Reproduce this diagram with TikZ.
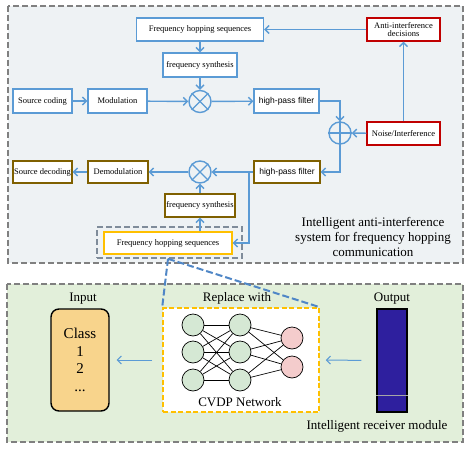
\documentclass[tikz,border=0pt]{standalone}
\usepackage{fontspec}
\setmainfont{Liberation Serif}
\newfontfamily\arialfont{Liberation Sans}
\usetikzlibrary{arrows.meta}

\definecolor{lineblue}{HTML}{5B9BD5}
\definecolor{boxred}{HTML}{C00000}
\definecolor{boxbrown}{HTML}{7F6000}
\definecolor{boxyellow}{HTML}{FFC000}
\definecolor{panelgray}{HTML}{EEF2F4}
\definecolor{panelgreen}{HTML}{E2EFDA}
\definecolor{dashgray}{HTML}{808080}
\definecolor{framegray}{HTML}{7F8C9A}
\definecolor{zoomblue}{HTML}{4F86C6}
\definecolor{nodegreen}{HTML}{D5E8D4}
\definecolor{nodepink}{HTML}{F4CCCC}
\definecolor{classorange}{HTML}{F8D48C}
\definecolor{barindigo}{HTML}{2E1F9E}

\tikzset{
    blockbox/.style={draw, line width=1.4pt, fill=white, minimum height=23pt,
        inner sep=1pt, align=center, font=\fontsize{8.5}{9.5}\selectfont},
    bluebox/.style={blockbox, draw=lineblue},
    redbox/.style={blockbox, draw=boxred},
    brownbox/.style={blockbox, draw=boxbrown, minimum height=22pt},
    mixer/.style={circle, draw=lineblue, line width=1.4pt, minimum size=22pt, inner sep=0pt},
    flow/.style={draw=lineblue, line width=1.4pt, -{Straight Barb[length=4pt,width=8pt]}},
    thinflow/.style={draw=lineblue, line width=1pt, -{Straight Barb[length=4pt,width=8pt]}},
    panel/.style={draw=dashgray, line width=1.6pt, dash pattern=on 6pt off 3pt},
    zoomline/.style={draw=zoomblue, line width=2pt, dash pattern=on 7pt off 3pt},
    neuron/.style={circle, draw=black, line width=0.7pt, minimum size=22pt, inner sep=0pt},
    caption/.style={font=\fontsize{13}{15}\selectfont, align=center}
}

\begin{document}
\begin{tikzpicture}[x=1pt, y=-1pt]
    % Define canvas size
    \useasboundingbox (0,0) rectangle (474,450);
    \fill[white] (0,0) rectangle (474,450);

    % Draw the two panels
    \draw[panel, fill=panelgray] (8,6) rectangle (463,263);
    \draw[panel, fill=panelgreen] (7,284) rectangle (463,442);

    % Transmitter chain
    \node[bluebox, minimum width=127pt] (fhs) at (200,29.5) {Frequency hopping sequences};
    \node[redbox, minimum width=73pt] (anti) at (403.5,29.5) {Anti-interference\\[-1pt]decisions};
    \node[bluebox, minimum width=74pt, minimum height=24pt] (synth) at (200,65) {frequency synthesis};
    \node[bluebox, minimum width=59pt, minimum height=24pt] (src) at (42.5,101) {Source coding};
    \node[bluebox, minimum width=59pt, minimum height=24pt] (mod) at (117.5,101) {Modulation};
    \node[mixer] (mix) at (200,101.5) {};
    \node[bluebox, minimum width=65pt, minimum height=24pt, font=\arialfont\fontsize{8.5}{9.5}\selectfont] (hpf) at (286.5,101) {high-pass filter};
    \node[mixer] (add) at (340,133) {};
    \node[redbox, minimum width=73pt] (noise) at (403.5,133.5) {Noise/Interference};

    % Receiver chain
    \node[brownbox, minimum width=66pt, font=\arialfont\fontsize{8.5}{9.5}\selectfont] (hpftwo) at (287,172) {high-pass filter};
    \node[mixer] (mixtwo) at (200,172) {};
    \node[brownbox, minimum width=60pt] (demod) at (118,172) {Demodulation};
    \node[brownbox, minimum width=59pt] (srcdec) at (42.5,172) {Source decoding};
    \node[brownbox, minimum width=70pt, minimum height=23pt] (synthtwo) at (200,205.5) {frequency synthesis};
    \node[draw=framegray, line width=1.6pt, dash pattern=on 6pt off 3pt,
        minimum width=145pt, minimum height=31pt] (fhsframe) at (169.5,242.5) {};
    \node[blockbox, draw=boxyellow, minimum width=128pt, minimum height=22pt] (fhstwo) at (168,243) {Frequency hopping sequences};

    % Mixer and adder symbols
    \foreach \m in {mix, mixtwo} {
        \draw[lineblue, line width=1.4pt] (\m.north west) -- (\m.south east);
        \draw[lineblue, line width=1.4pt] (\m.north east) -- (\m.south west);
    }
    \draw[lineblue, line width=1.4pt] (add.north) -- (add.south);
    \draw[lineblue, line width=1.4pt] (add.west) -- (add.east);

    % Connectors of the top panel
    \draw[flow] (fhs) -- (synth);
    \draw[flow] (synth) -- (mix);
    \draw[flow] (src) -- (mod);
    \draw[flow] (mod) -- (mix);
    \draw[flow] (mix) -- (hpf);
    \draw[flow] (hpf.east) -| (add.north);
    \draw[flow] (noise) -- (add);
    \draw[flow] (noise) -- (anti);
    \draw[flow] (anti) -- (fhs);
    \draw[flow] (add.south) |- (hpftwo.east);
    \draw[flow] (hpftwo) -- (mixtwo);
    \coordinate (tap) at (249,172);
    \draw[flow] (tap) |- (fhstwo.east);
    \draw[flow] (mixtwo) -- (demod);
    \draw[flow] (demod) -- (srcdec);
    \draw[flow] (fhstwo.north -| synthtwo) -- (synthtwo.south);
    \draw[flow] (synthtwo) -- (mixtwo);

    \node[caption] (toplabel) at (373,237) {Intelligent anti-interference\\system for frequency hopping\\communication};

    % Bottom panel
    \node[caption] (inlabel) at (83,299) {Input};
    \node[draw=black, line width=1.4pt, fill=classorange, rounded corners=8pt,
        minimum width=58pt, minimum height=102pt, align=center,
        font=\fontsize{15}{17.5}\selectfont] (class) at (80,360) {Class\\1\\2\\...};
    \node[caption] (replabel) at (237,298) {Replace with};
    \node[draw=boxyellow, line width=1.6pt, dash pattern=on 5pt off 2.5pt, fill=white,
        minimum width=156pt, minimum height=104pt] (nnbox) at (241,360) {};
    \node[caption] (outlabel) at (392,299) {Output};
    \node[draw=black, line width=1.1pt, fill=barindigo, minimum width=30pt,
        minimum height=103pt] (outbar) at (392,360.5) {};
    \draw[gray!70, line width=0.8pt] (outbar.west |- 0,395) -- (outbar.east |- 0,395);
    \node[caption] (rxlabel) at (377,426) {Intelligent receiver module};

    % Zoom lines
    \coordinate (zoomtip) at (fhsframe.south -| fhstwo.center);
    \draw[zoomline] (zoomtip) -- (nnbox.north west);
    \draw[zoomline] (zoomtip) -- (nnbox.north east);

    % Draw the network
    \foreach \y [count=\i] in {325,352,380} {
        \node[neuron, fill=nodegreen] (in\i) at (193,\y) {};
        \node[neuron, fill=nodegreen] (hid\i) at (240,\y) {};
    }
    \foreach \y [count=\i] in {338,367} {
        \node[neuron, fill=nodepink] (out\i) at (292,\y) {};
    }
    \foreach \i in {1,2,3} {
        \foreach \j in {1,2,3} {
            \draw[line width=0.7pt] (in\i) -- (hid\j);
        }
        \foreach \j in {1,2} {
            \draw[line width=0.7pt] (hid\i) -- (out\j);
        }
    }
    \node[caption] (nnlabel) at (240,402) {CVDP Network};

    % Arrows between output, network and input
    \draw[thinflow, shorten <=15pt, shorten >=6pt] (outbar.west) -- (nnbox.east);
    \draw[thinflow, shorten <=10pt, shorten >=7pt] (nnbox.west) -- (class.east);
\end{tikzpicture}
\end{document}
